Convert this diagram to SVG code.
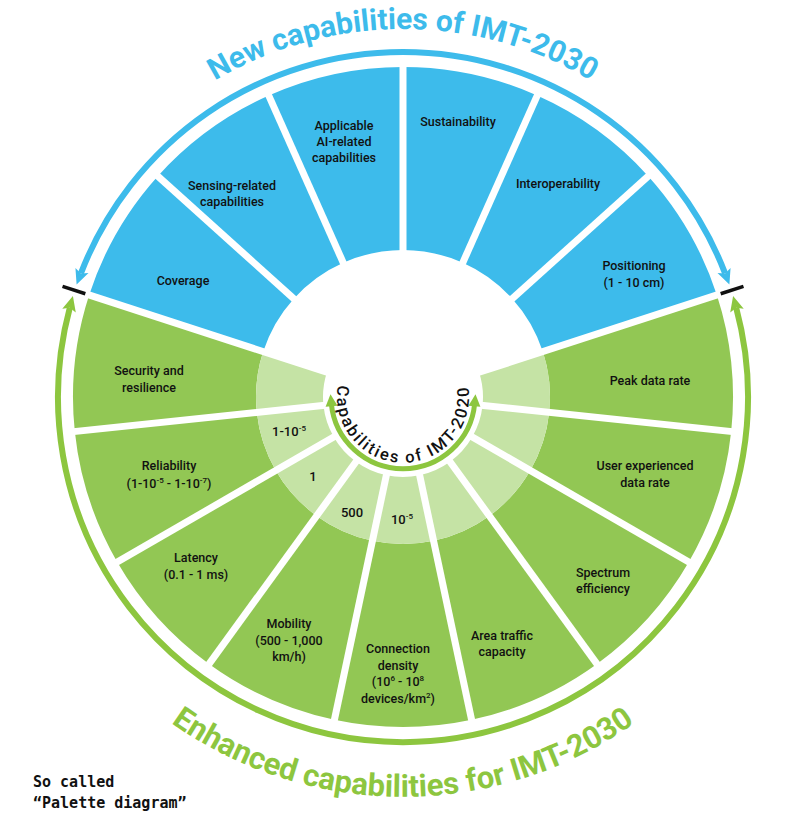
<svg xmlns="http://www.w3.org/2000/svg" width="802" height="835" viewBox="0 0 802 835">
<style>
.b{fill:#3dbbeb}.g{fill:#92c754}.l{fill:#c5e3a5}
.t{font-family:Roboto,"Liberation Sans",sans-serif;font-size:12.5px;font-weight:500;fill:#111;text-anchor:middle}
.v{font-family:Roboto,"Liberation Sans",sans-serif;font-size:13px;font-weight:500;fill:#111;text-anchor:middle}
.gap{stroke:#fff;stroke-width:7}
</style>
<defs>
<path id="dw" d="M143.79,-30.56 L322.79,-68.61 A330,330 0 0 1 322.79,68.61 L143.79,30.56 A147,147 0 0 0 143.79,-30.56 Z"/>
<path id="lw" d="M78.25,-16.63 L143.79,-30.56 A147,147 0 0 1 143.79,30.56 L78.25,16.63 A80,80 0 0 0 78.25,-16.63 Z"/>
<marker id="ab" viewBox="-1 -8 17 16" refX="3" refY="0" markerWidth="17" markerHeight="16" markerUnits="userSpaceOnUse" orient="auto-start-reverse"><path d="M0,-7 L15,0 L0,7 L3,0 Z" fill="#3dbbeb"/></marker>
<marker id="ag" viewBox="-1 -8 17 16" refX="3" refY="0" markerWidth="17" markerHeight="16" markerUnits="userSpaceOnUse" orient="auto-start-reverse"><path d="M0,-7 L15,0 L0,7 L3,0 Z" fill="#8dc63f"/></marker>
<marker id="ai" viewBox="-1 -7 14 14" refX="3" refY="0" markerWidth="14" markerHeight="14" markerUnits="userSpaceOnUse" orient="auto-start-reverse"><path d="M0,-6 L12,0 L0,6 Z" fill="#8dc63f"/></marker>
<path id="topArc" d="M35,397 A368,368 0 0 1 771,397"/>
<path id="botArc" d="M3,397 A400,400 0 0 0 803,397"/>
<path id="inArc" d="M338.4,383.3 A66,66 0 1 0 467.6,383.3"/>
</defs>

<g id="positioning"><use href="#dw" class="b" transform="translate(403 397) rotate(-30)"/><text class="t" x="634" y="270">Positioning</text><text class="t" x="634" y="287">(1 - 10 cm)</text></g>
<g id="interoperability"><use href="#dw" class="b" transform="translate(403 397) rotate(-54)"/><text class="t" x="558" y="188">Interoperability</text></g>
<g id="sustainability"><use href="#dw" class="b" transform="translate(403 397) rotate(-78)"/><text class="t" x="458" y="126">Sustainability</text></g>
<g id="ai"><use href="#dw" class="b" transform="translate(403 397) rotate(-102)"/><text class="t" x="344" y="130">Applicable</text><text class="t" x="344" y="146">AI-related</text><text class="t" x="344" y="162">capabilities</text></g>
<g id="sensing"><use href="#dw" class="b" transform="translate(403 397) rotate(-126)"/><text class="t" x="232" y="190">Sensing-related</text><text class="t" x="232" y="206">capabilities</text></g>
<g id="coverage"><use href="#dw" class="b" transform="translate(403 397) rotate(-150)"/><text class="t" x="183" y="285">Coverage</text></g>

<g id="security"><g transform="translate(403 397) rotate(-174)"><use href="#dw" class="g"/><use href="#lw" class="l"/></g><text class="t" x="149" y="375">Security and</text><text class="t" x="149" y="392">resilience</text></g>
<g id="reliability"><g transform="translate(403 397) rotate(-198)"><use href="#dw" class="g"/><use href="#lw" class="l"/></g><text class="t" x="169" y="470">Reliability</text><text class="t" x="169" y="488">(1-10<tspan dy="-5" font-size="8">-5</tspan><tspan dy="5"> - 1-10</tspan><tspan dy="-5" font-size="8">-7</tspan><tspan dy="5">)</tspan></text><text class="v" x="289" y="436">1-10<tspan dy="-5" font-size="8">-5</tspan></text></g>
<g id="latency"><g transform="translate(403 397) rotate(-222)"><use href="#dw" class="g"/><use href="#lw" class="l"/></g><text class="t" x="196" y="562">Latency</text><text class="t" x="196" y="579">(0.1 - 1 ms)</text><text class="v" x="313" y="481">1</text></g>
<g id="mobility"><g transform="translate(403 397) rotate(-246)"><use href="#dw" class="g"/><use href="#lw" class="l"/></g><text class="t" x="289" y="628">Mobility</text><text class="t" x="289" y="645">(500 - 1,000</text><text class="t" x="289" y="661">km/h)</text><text class="v" x="352" y="517">500</text></g>
<g id="density"><g transform="translate(403 397) rotate(-270)"><use href="#dw" class="g"/><use href="#lw" class="l"/></g><text class="t" x="398" y="653">Connection</text><text class="t" x="398" y="670">density</text><text class="t" x="398" y="686">(10<tspan dy="-5" font-size="8">6</tspan><tspan dy="5"> - 10</tspan><tspan dy="-5" font-size="8">8</tspan></text><text class="t" x="398" y="703">devices/km<tspan dy="-5" font-size="8">2</tspan><tspan dy="5">)</tspan></text><text class="v" x="402" y="524">10<tspan dy="-5" font-size="8">-5</tspan></text></g>
<g id="areatraffic"><g transform="translate(403 397) rotate(-294)"><use href="#dw" class="g"/><use href="#lw" class="l"/></g><text class="t" x="502" y="640">Area traffic</text><text class="t" x="502" y="656">capacity</text></g>
<g id="spectrum"><g transform="translate(403 397) rotate(-318)"><use href="#dw" class="g"/><use href="#lw" class="l"/></g><text class="t" x="603" y="577">Spectrum</text><text class="t" x="603" y="593">efficiency</text></g>
<g id="userrate"><g transform="translate(403 397) rotate(-342)"><use href="#dw" class="g"/><use href="#lw" class="l"/></g><text class="t" x="645" y="470">User experienced</text><text class="t" x="645" y="487">data rate</text></g>
<g id="peak"><g transform="translate(403 397) rotate(-6)"><use href="#dw" class="g"/><use href="#lw" class="l"/></g><text class="t" x="650" y="385">Peak data rate</text></g>

<g id="connectors">
<g transform="translate(403 397)">
<line class="gap" x1="76" y1="0" x2="336" y2="0" transform="rotate(-18)"/>
<line class="gap" x1="140" y1="0" x2="336" y2="0" transform="rotate(-42)"/>
<line class="gap" x1="140" y1="0" x2="336" y2="0" transform="rotate(-66)"/>
<line class="gap" x1="140" y1="0" x2="336" y2="0" transform="rotate(-90)"/>
<line class="gap" x1="140" y1="0" x2="336" y2="0" transform="rotate(-114)"/>
<line class="gap" x1="140" y1="0" x2="336" y2="0" transform="rotate(-138)"/>
<line class="gap" x1="76" y1="0" x2="336" y2="0" transform="rotate(-162)"/>
<line class="gap" x1="76" y1="0" x2="336" y2="0" transform="rotate(-186)"/>
<line class="gap" x1="76" y1="0" x2="336" y2="0" transform="rotate(-210)"/>
<line class="gap" x1="76" y1="0" x2="336" y2="0" transform="rotate(-234)"/>
<line class="gap" x1="76" y1="0" x2="336" y2="0" transform="rotate(-258)"/>
<line class="gap" x1="76" y1="0" x2="336" y2="0" transform="rotate(-282)"/>
<line class="gap" x1="76" y1="0" x2="336" y2="0" transform="rotate(-306)"/>
<line class="gap" x1="76" y1="0" x2="336" y2="0" transform="rotate(-330)"/>
<line class="gap" x1="76" y1="0" x2="336" y2="0" transform="rotate(-354)"/>
<line x1="334" y1="0" x2="358" y2="0" stroke="#111" stroke-width="3.5" transform="rotate(-18)"/>
<line x1="334" y1="0" x2="358" y2="0" stroke="#111" stroke-width="3.5" transform="rotate(-162)"/>
</g>
<path d="M80.9,273.4 A345,345 0 0 1 725.1,273.4" fill="none" stroke="#3dbbeb" stroke-width="6" marker-start="url(#ab)" marker-end="url(#ab)"/>
<path d="M69.8,307.7 A345,345 0 1 0 736.2,307.7" fill="none" stroke="#8dc63f" stroke-width="6" marker-start="url(#ag)" marker-end="url(#ag)"/>
<path d="M331.3,403.3 A72,72 0 0 0 474.7,403.3" fill="none" stroke="#8dc63f" stroke-width="5" marker-start="url(#ai)" marker-end="url(#ai)"/>
</g>

<text font-family="Roboto,'Liberation Sans',sans-serif" font-size="16.5" font-weight="500" fill="#111"><textPath href="#inArc" startOffset="2" textLength="228" lengthAdjust="spacing">Capabilities of IMT-2020</textPath></text>
<text font-family="Roboto,'Liberation Sans',sans-serif" font-size="30" font-weight="700" fill="#3dbbeb"><textPath href="#topArc" startOffset="50%" text-anchor="middle">New capabilities of IMT-2030</textPath></text>
<text font-family="Roboto,'Liberation Sans',sans-serif" font-size="31" font-weight="700" fill="#8dc63f"><textPath href="#botArc" startOffset="50%" text-anchor="middle">Enhanced capabilities for IMT-2030</textPath></text>
<text font-family="'DejaVu Sans Mono',monospace" font-size="15" font-weight="bold" fill="#111" x="33" y="787">So called</text>
<text font-family="'DejaVu Sans Mono',monospace" font-size="15" font-weight="bold" fill="#111" x="33" y="808">“Palette diagram”</text>
</svg>
